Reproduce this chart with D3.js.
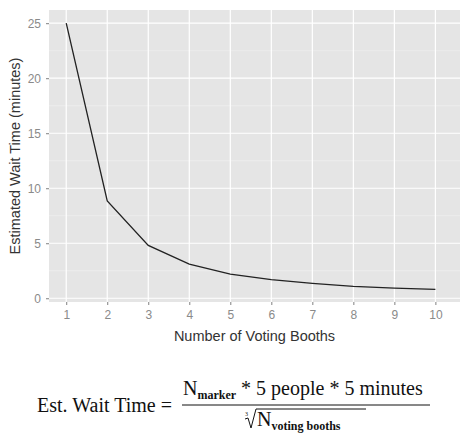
<!DOCTYPE html>
<html>
<head>
<meta charset="utf-8">
<script src="https://cdn.jsdelivr.net/npm/d3@7"></script>
<style>
body { margin: 0; background: #fff; }
</style>
</head>
<body>
<svg id="chart" width="474" height="446"></svg>
<script>
let booths = [1, 2, 3, 4, 5, 6, 7, 8, 9, 10];
let waitTime = [25, 8.85, 4.8, 3.1, 2.2, 1.7, 1.35, 1.08, 0.93, 0.8];
let yTicks = [0, 5, 10, 15, 20, 25];
let yMinor = [2.5, 7.5, 12.5, 17.5, 22.5];

let svg = d3.select('#chart');
let panel = { left: 49, right: 460, top: 10, bottom: 302 };

let x = d3.scaleLinear().domain([0.58, 10.6]).range([panel.left, panel.right]);
let y = d3.scaleLinear().domain([-0.34, 26.2]).range([panel.bottom, panel.top]);

svg.append('rect')
  .attr('x', panel.left).attr('y', panel.top)
  .attr('width', panel.right - panel.left).attr('height', panel.bottom - panel.top)
  .attr('fill', '#e5e5e5');

// minor grid
svg.selectAll('.yminor').data(yMinor).enter().append('line')
  .attr('x1', panel.left).attr('x2', panel.right)
  .attr('y1', d => y(d)).attr('y2', d => y(d))
  .attr('stroke', '#f2f2f2').attr('stroke-width', 0.6);

// major grid
svg.selectAll('.ymajor').data(yTicks).enter().append('line')
  .attr('x1', panel.left).attr('x2', panel.right)
  .attr('y1', d => y(d)).attr('y2', d => y(d))
  .attr('stroke', '#fff').attr('stroke-width', 1.2);
svg.selectAll('.xmajor').data(booths).enter().append('line')
  .attr('y1', panel.top).attr('y2', panel.bottom)
  .attr('x1', d => x(d)).attr('x2', d => x(d))
  .attr('stroke', '#fff').attr('stroke-width', 1.2);

// axes
let xAxis = d3.axisBottom(x).tickValues(booths).tickSize(3).tickPadding(5);
let yAxis = d3.axisLeft(y).tickValues(yTicks).tickSize(3).tickPadding(5);

let gx = svg.append('g').attr('transform', 'translate(0,' + panel.bottom + ')').call(xAxis);
let gy = svg.append('g').attr('transform', 'translate(' + panel.left + ',0)').call(yAxis);
[gx, gy].forEach(g => {
  g.select('.domain').remove();
  g.selectAll('line').attr('stroke', '#7f7f7f');
  g.selectAll('text').attr('fill', '#8a8a8a')
    .style('font-family', 'Arial, "Liberation Sans", sans-serif').style('font-size', '12px');
});

// line
let line = d3.line().x((d, i) => x(booths[i])).y(d => y(d));
svg.append('path').datum(waitTime)
  .attr('d', line).attr('fill', 'none')
  .attr('stroke', '#222').attr('stroke-width', 1.3);

// titles
svg.append('text')
  .attr('x', (panel.left + panel.right) / 2).attr('y', 341)
  .attr('text-anchor', 'middle')
  .style('font-family', 'Arial, "Liberation Sans", sans-serif').style('font-size', '14.5px')
  .attr('fill', '#333')
  .text('Number of Voting Booths');

svg.append('text')
  .attr('transform', 'translate(20,' + (panel.top + panel.bottom) / 2 + ') rotate(-90)')
  .attr('text-anchor', 'middle')
  .style('font-family', 'Arial, "Liberation Sans", sans-serif').style('font-size', '14.5px')
  .attr('fill', '#333')
  .text('Estimated Wait Time (minutes)');

// formula
let f = svg.append('g').style('font-family', '"Liberation Serif", serif').attr('fill', '#111');

f.append('text').attr('x', 37).attr('y', 412).style('font-size', '20px')
  .attr('textLength', 135)
  .text('Est. Wait Time =');

let num = f.append('text').attr('x', 183).attr('y', 395).style('font-size', '20px');
num.append('tspan').text('N');
num.append('tspan').attr('dy', 4).style('font-size', '12px').style('font-weight', 'bold').text('marker');
num.append('tspan').attr('dy', -4).text(' * 5 people * 5 minutes');

f.append('line').attr('x1', 182).attr('x2', 430).attr('y1', 405).attr('y2', 405)
  .attr('stroke', '#111').attr('stroke-width', 1);

f.append('text').attr('x', 245).attr('y', 416).style('font-size', '6px').text('3');
f.append('path').attr('d', 'M245,419 L248,418 L251,428 L256,409 L366,409')
  .attr('fill', 'none').attr('stroke', '#111').attr('stroke-width', 1);
let den = f.append('text').attr('x', 257).attr('y', 426).style('font-size', '20px');
den.append('tspan').text('N');
den.append('tspan').attr('dy', 4).style('font-size', '12px').style('font-weight', 'bold').text('voting booths');
</script>
</body>
</html>
